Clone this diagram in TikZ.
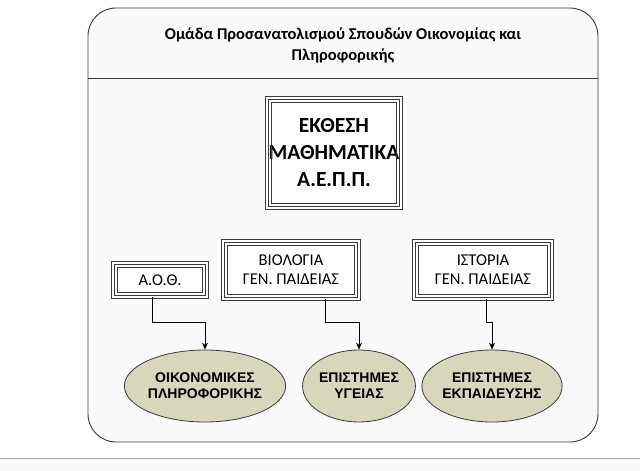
\documentclass[tikz,border=0pt]{standalone}
\usepackage{fontspec}
\setmainfont{Carlito}
\newfontfamily\arialf{Liberation Sans}
\usetikzlibrary{shapes.geometric,arrows.meta}
\definecolor{olive}{HTML}{D8D7BC}
\definecolor{frame}{HTML}{3A3A3A}
\tikzset{
  dbox/.style={draw=frame, double=white, double distance=2.2pt, line width=0.9pt, fill=white, align=center, inner sep=0pt},
  ell/.style={ellipse, draw=frame, line width=0.8pt, fill=olive, align=center, inner sep=0pt, font=\arialf\bfseries\fontsize{14}{16}\selectfont},
  conn/.style={draw=black, line width=0.8pt, -{Stealth[length=7pt,width=6pt]}}
}
\begin{document}
\begin{tikzpicture}[x=1pt,y=-1pt]
\useasboundingbox (0,0) rectangle (640,471);
\fill[white] (0,0) rectangle (640,471);
\draw[gray!70, line width=1pt] (0,458) -- (640,458);
\fill[gray!5] (0,459) rectangle (640,471);
% outer frame
\draw[frame, line width=0.9pt, fill=gray!4, rounded corners=28pt] (88,8) rectangle (598,442);
\draw[frame, line width=0.9pt] (88,78) -- (598,78);
\node (title) at (343,45) [align=center, font=\bfseries\fontsize{16.5}{21}\selectfont] {Ομάδα Προσανατολισμού Σπουδών Οικονομίας και\\Πληροφορικής};
% boxes
\node[dbox, minimum width=134, minimum height=110, font=\bfseries\fontsize{21.5}{27}\selectfont] (main) at (334,153) {ΕΚΘΕΣΗ\\ΜΑΘΗΜΑΤΙΚΑ\\Α.Ε.Π.Π.};
\node[dbox, minimum width=94, minimum height=34, font=\fontsize{16.5}{19}\selectfont] (aoth) at (160,280) {Α.Ο.Θ.};
\node[dbox, minimum width=136, minimum height=58, font=\fontsize{16.5}{19}\selectfont] (bio) at (291,270) {ΒΙΟΛΟΓΙΑ\\ΓΕΝ. ΠΑΙΔΕΙΑΣ};
\node[dbox, minimum width=138, minimum height=58, font=\fontsize{16.5}{19}\selectfont] (ist) at (483,270) {ΙΣΤΟΡΙΑ\\ΓΕΝ. ΠΑΙΔΕΙΑΣ};
% inner thin frames
\foreach \n in {main,aoth,bio,ist}{
  \draw[frame, line width=0.5pt] ([shift={(5,-5)}]\n.south west) rectangle ([shift={(-5,5)}]\n.north east);
}
% ellipses
\node[ell, minimum width=152, minimum height=72] (e1) at (205,386) {ΟΙΚΟΝΟΜΙΚΕΣ\\ΠΛΗΡΟΦΟΡΙΚΗΣ};
\node[ell, minimum width=92, minimum height=72] (e2) at (359,386) {ΕΠΙΣΤΗΜΕΣ\\ΥΓΕΙΑΣ};
\node[ell, minimum width=122, minimum height=72] (e3) at (492,386) {ΕΠΙΣΤΗΜΕΣ\\ΕΚΠΑΙΔΕΥΣΗΣ};
% connectors
\coordinate (a1) at (152,322);
\coordinate (a2) at (205,322);
\draw[conn] (aoth.south -| a1) -- (a1) -- (a2) -- (e1.north);
\coordinate (b1) at (325,322);
\coordinate (b2) at (359,322);
\draw[conn] (bio.south -| b1) -- (b1) -- (b2) -- (e2.north);
\coordinate (c1) at (486,322);
\coordinate (c2) at (492,322);
\draw[conn] (ist.south -| c1) -- (c1) -- (c2) -- (e3.north);
\end{tikzpicture}
\end{document}
